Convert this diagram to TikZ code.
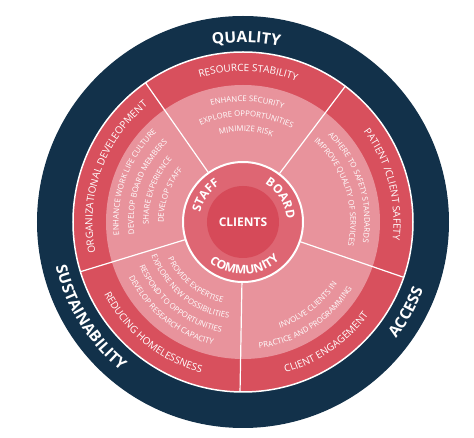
\documentclass[tikz,border=0pt]{standalone}
\usepackage{fontspec}
\setmainfont{Open Sans}
\usepackage{tikz}
\usetikzlibrary{decorations.text}
\definecolor{dunkelblau}{HTML}{12314A}
\definecolor{bandrot}{HTML}{D8505D}
\definecolor{innenrosa}{HTML}{E8939C}
\definecolor{ringrot}{HTML}{DE6673}
\definecolor{kernrot}{HTML}{D64A59}
\newcommand{\schriftGross}{\bfseries\fontsize{15.5}{16}\selectfont}
\newcommand{\schriftBand}{\fontsize{10}{12}\selectfont}
\newcommand{\schriftKlein}{\fontsize{7.8}{9}\selectfont}
\newcommand{\schriftMitte}{\bfseries\fontsize{12}{14}\selectfont}
\tikzset{
  bogen/.style={decorate,decoration={text along path,text align=center,text color=white,text={#1}}},
  trennlinie/.style={white,line width=1.2pt},
}
%Text im Uhrzeigersinn (Oberkante aussen): Winkel, Radius der Grundlinie, Text
\newcommand{\imUhrzeiger}[3]{\path[bogen={#3}] (#1+80:#2) arc[start angle=#1+80,end angle=#1-80,radius=#2];}
%Text gegen den Uhrzeigersinn (Oberkante innen)
\newcommand{\gegenUhrzeiger}[3]{\path[bogen={#3}] (#1-80:#2) arc[start angle=#1-80,end angle=#1+80,radius=#2];}
\begin{document}
\begin{tikzpicture}[x=1pt,y=1pt]
  \pgfmathsetmacro{\rAussen}{206}
  \pgfmathsetmacro{\rDunkel}{170}
  \pgfmathsetmacro{\rBand}{137}
  \pgfmathsetmacro{\rRing}{60}
  \pgfmathsetmacro{\rKern}{36}
  \useasboundingbox (-243,-216) rectangle (231,222);
%Ringe von aussen nach innen
  \fill[dunkelblau] (0,0) circle (\rAussen);
  \fill[bandrot] (0,0) circle (\rDunkel);
  \draw[white,line width=1.5pt] (0,0) circle (\rDunkel);
  \fill[innenrosa] (0,0) circle (\rBand);
\foreach \w in {125,53,...,-163}{
  \draw[trennlinie] (\w:\rRing) -- (\w:\rDunkel);
}
  \fill[ringrot] (0,0) circle (\rRing);
  \draw[white,line width=2pt] (0,0) circle (\rRing);
  \fill[kernrot] (0,0) circle (\rKern);
  \node[text=white,font=\schriftMitte] (kunden) at (0,0) {CLIENTS};
%Mitte
  \imUhrzeiger{145}{43.7}{|\schriftMitte|STAFF}
  \imUhrzeiger{32}{43.7}{|\schriftMitte|BOARD}
  \gegenUhrzeiger{-88}{52.3}{|\schriftMitte|COMMUNITY}
%Dunkler Ring
  \imUhrzeiger{89}{179.5}{|\schriftGross|QUALITY}
  \gegenUhrzeiger{212}{192.5}{|\schriftGross|SUSTAINABILITY}
  \gegenUhrzeiger{-29}{192.5}{|\schriftGross|ACCESS}
%Band
  \imUhrzeiger{88}{150.5}{|\schriftBand|RESOURCE STABILITY}
  \imUhrzeiger{15}{150.5}{|\schriftBand|PATIENT /CLIENT SAFETY}
  \gegenUhrzeiger{-55.5}{156.5}{|\schriftBand|CLIENT ENGAGEMENT}
  \gegenUhrzeiger{-129}{156.5}{|\schriftBand|REDUCING HOMELESSNESS}
  \imUhrzeiger{160.5}{150.5}{|\schriftBand|ORGANIZATIONAL DEVELEOPMENT}
%Sektoren innen
  \imUhrzeiger{88}{120.4}{|\schriftKlein|ENHANCE SECURITY}
  \imUhrzeiger{88}{105.4}{|\schriftKlein|EXPLORE OPPORTUNITIES}
  \imUhrzeiger{88}{90.4}{|\schriftKlein|MINIMIZE RISK}
  \imUhrzeiger{18}{121.4}{|\schriftKlein|ADHERE TO SAFETY STANDARDS}
  \imUhrzeiger{18}{107.4}{|\schriftKlein|IMPROVE QUALITY OF SERVICES}
  \gegenUhrzeiger{-52}{112.6}{|\schriftKlein|INVOLVE CLIENTS IN}
  \gegenUhrzeiger{-57}{127.6}{|\schriftKlein|PRACTICE AND PROGRAMMING}
  \gegenUhrzeiger{-129}{83.6}{|\schriftKlein|PROVIDE EXPERTISE}
  \gegenUhrzeiger{-129}{97.6}{|\schriftKlein|EXPLORE NEW POSSIBILITIES}
  \gegenUhrzeiger{-129}{112.6}{|\schriftKlein|RESPOND TO OPPORTUNITIES}
  \gegenUhrzeiger{-129}{126.6}{|\schriftKlein|DEVELOP RESEARCH CAPACITY}
  \imUhrzeiger{160}{124.4}{|\schriftKlein|ENHANCE WORK LIFE CULTURE}
  \imUhrzeiger{160}{109.4}{|\schriftKlein|DEVELOP BOARD MEMBERS}
  \imUhrzeiger{160}{94.4}{|\schriftKlein|SHARE EXPERIENCE}
  \imUhrzeiger{160}{79.4}{|\schriftKlein|DEVELOP STAFF}
\end{tikzpicture}
\end{document}
